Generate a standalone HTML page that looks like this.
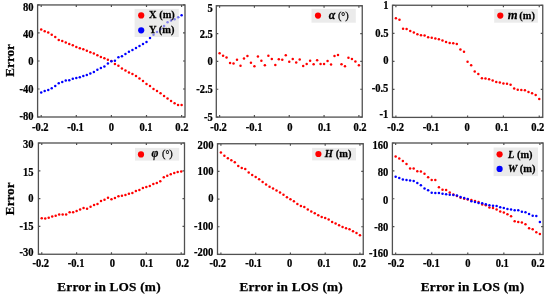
<!DOCTYPE html>
<html><head><meta charset="utf-8"><style>
html,body{margin:0;padding:0;background:#fff;width:550px;height:299px;overflow:hidden}
svg{display:block}
text{font-family:"Liberation Serif","Times New Roman",serif;font-weight:bold;fill:#000;stroke:#000;stroke-width:0.25px}
.tk{font-size:11.7px}
.lb{font-size:13.3px;letter-spacing:0.2px}
.lg{font-size:11px}
.yl{font-size:13.2px}
</style></head><body>
<svg width="550" height="299" viewBox="0 0 550 299">
<rect width="550" height="299" fill="#fff"/>
<g fill="#ff0000"><circle cx="41.2" cy="29.5" r="1.25"/><circle cx="44.71" cy="31.2" r="1.25"/><circle cx="48.22" cy="32.6" r="1.25"/><circle cx="51.73" cy="34.8" r="1.25"/><circle cx="55.24" cy="37" r="1.25"/><circle cx="58.75" cy="39.9" r="1.25"/><circle cx="62.26" cy="41" r="1.25"/><circle cx="65.77" cy="42.6" r="1.25"/><circle cx="69.28" cy="43.9" r="1.25"/><circle cx="72.79" cy="45.3" r="1.25"/><circle cx="76.3" cy="46.9" r="1.25"/><circle cx="79.81" cy="48.2" r="1.25"/><circle cx="83.32" cy="49.3" r="1.25"/><circle cx="86.83" cy="50.8" r="1.25"/><circle cx="90.34" cy="52.3" r="1.25"/><circle cx="93.85" cy="53.6" r="1.25"/><circle cx="97.36" cy="55.2" r="1.25"/><circle cx="100.87" cy="57" r="1.25"/><circle cx="104.38" cy="58.2" r="1.25"/><circle cx="107.89" cy="59.7" r="1.25"/><circle cx="111.4" cy="61" r="1.25"/><circle cx="114.91" cy="63.9" r="1.25"/><circle cx="118.42" cy="65.7" r="1.25"/><circle cx="121.93" cy="68.6" r="1.25"/><circle cx="125.44" cy="70.6" r="1.25"/><circle cx="128.95" cy="72.4" r="1.25"/><circle cx="132.46" cy="74" r="1.25"/><circle cx="135.97" cy="76.1" r="1.25"/><circle cx="139.48" cy="78.5" r="1.25"/><circle cx="142.99" cy="81.1" r="1.25"/><circle cx="146.5" cy="84" r="1.25"/><circle cx="150.01" cy="86.1" r="1.25"/><circle cx="153.52" cy="88.9" r="1.25"/><circle cx="157.03" cy="91" r="1.25"/><circle cx="160.54" cy="93.3" r="1.25"/><circle cx="164.05" cy="96" r="1.25"/><circle cx="167.56" cy="98.4" r="1.25"/><circle cx="171.07" cy="101" r="1.25"/><circle cx="174.58" cy="103.3" r="1.25"/><circle cx="178.09" cy="105.1" r="1.25"/><circle cx="181.6" cy="105.1" r="1.25"/></g>
<g fill="#0000ff"><circle cx="41.2" cy="92.6" r="1.25"/><circle cx="44.71" cy="91" r="1.25"/><circle cx="48.22" cy="89.9" r="1.25"/><circle cx="51.73" cy="88.3" r="1.25"/><circle cx="55.24" cy="85.9" r="1.25"/><circle cx="58.75" cy="83.2" r="1.25"/><circle cx="62.26" cy="82" r="1.25"/><circle cx="65.77" cy="80.5" r="1.25"/><circle cx="69.28" cy="80.3" r="1.25"/><circle cx="72.79" cy="78.7" r="1.25"/><circle cx="76.3" cy="78" r="1.25"/><circle cx="79.81" cy="77.2" r="1.25"/><circle cx="83.32" cy="76" r="1.25"/><circle cx="86.83" cy="74.9" r="1.25"/><circle cx="90.34" cy="73.6" r="1.25"/><circle cx="93.85" cy="72" r="1.25"/><circle cx="97.36" cy="69.7" r="1.25"/><circle cx="100.87" cy="68" r="1.25"/><circle cx="104.38" cy="66.6" r="1.25"/><circle cx="107.89" cy="63.5" r="1.25"/><circle cx="111.4" cy="61.3" r="1.25"/><circle cx="114.91" cy="60.7" r="1.25"/><circle cx="118.42" cy="57.2" r="1.25"/><circle cx="121.93" cy="56.3" r="1.25"/><circle cx="125.44" cy="54.1" r="1.25"/><circle cx="128.95" cy="51.8" r="1.25"/><circle cx="132.46" cy="50.1" r="1.25"/><circle cx="135.97" cy="48.1" r="1.25"/><circle cx="139.48" cy="46" r="1.25"/><circle cx="142.99" cy="44" r="1.25"/><circle cx="146.5" cy="42" r="1.25"/><circle cx="150.01" cy="38" r="1.25"/><circle cx="153.52" cy="34.7" r="1.25"/><circle cx="157.03" cy="32" r="1.25"/><circle cx="160.54" cy="29.1" r="1.25"/><circle cx="164.05" cy="26.1" r="1.25"/><circle cx="167.56" cy="22.3" r="1.25"/><circle cx="171.07" cy="20.4" r="1.25"/><circle cx="174.58" cy="19.2" r="1.25"/><circle cx="178.09" cy="17.2" r="1.25"/><circle cx="181.6" cy="15.2" r="1.25"/></g>
<rect x="134.6" y="8.9" width="44.2" height="28.1" fill="#dddddd" fill-opacity="0.6"/>
<circle cx="141.2" cy="15.4" r="3.1" fill="#ff0000"/>
<text transform="translate(149 18.2) scale(0.95 1)" class="lg"><tspan>X (m)</tspan></text>
<circle cx="141.2" cy="30.3" r="3.1" fill="#0000ff"/>
<text transform="translate(149 33.3) scale(0.95 1)" class="lg"><tspan>Y (m)</tspan></text>
<rect x="37.6" y="4.95" width="147.4" height="112.05" fill="none" stroke="#505050" stroke-width="1.3"/>
<path d="M41.2 117v-2.0M41.2 4.95v2.0M76.3 117v-2.0M76.3 4.95v2.0M111.4 117v-2.0M111.4 4.95v2.0M146.5 117v-2.0M146.5 4.95v2.0M181.6 117v-2.0M181.6 4.95v2.0M37.6 4.95h2.0M185 4.95h-2.0M37.6 32.96h2.0M185 32.96h-2.0M37.6 60.98h2.0M185 60.98h-2.0M37.6 88.99h2.0M185 88.99h-2.0M37.6 117h2.0M185 117h-2.0" stroke="#505050" stroke-width="1.2" fill="none"/>
<text transform="translate(40.25 130.9) scale(0.9 1)" class="tk" text-anchor="middle">-0.2</text>
<text transform="translate(75.5 130.9) scale(0.9 1)" class="tk" text-anchor="middle">-0.1</text>
<text transform="translate(111.45 130.9) scale(0.9 1)" class="tk" text-anchor="middle">0</text>
<text transform="translate(146 130.9) scale(0.9 1)" class="tk" text-anchor="middle">0.1</text>
<text transform="translate(181.9 130.9) scale(0.9 1)" class="tk" text-anchor="middle">0.2</text>
<text transform="translate(33.5 10.8) scale(0.9 1)" class="tk" text-anchor="end">80</text>
<text transform="translate(33.5 37.85) scale(0.9 1)" class="tk" text-anchor="end">40</text>
<text transform="translate(33.5 65) scale(0.9 1)" class="tk" text-anchor="end">0</text>
<text transform="translate(33.5 92.75) scale(0.9 1)" class="tk" text-anchor="end">-40</text>
<text transform="translate(33.5 120) scale(0.9 1)" class="tk" text-anchor="end">-80</text>
<g fill="#ff0000"><circle cx="219.6" cy="53.3" r="1.25"/><circle cx="223.08" cy="55.7" r="1.25"/><circle cx="226.56" cy="57.4" r="1.25"/><circle cx="230.05" cy="63.1" r="1.25"/><circle cx="233.53" cy="63.5" r="1.25"/><circle cx="237.01" cy="59.7" r="1.25"/><circle cx="240.5" cy="65.8" r="1.25"/><circle cx="243.98" cy="58.4" r="1.25"/><circle cx="247.46" cy="56.1" r="1.25"/><circle cx="250.94" cy="62.7" r="1.25"/><circle cx="254.42" cy="66.2" r="1.25"/><circle cx="257.91" cy="56.4" r="1.25"/><circle cx="261.39" cy="60.8" r="1.25"/><circle cx="264.87" cy="65.2" r="1.25"/><circle cx="268.36" cy="55.7" r="1.25"/><circle cx="271.84" cy="59" r="1.25"/><circle cx="275.32" cy="65.1" r="1.25"/><circle cx="278.8" cy="59.3" r="1.25"/><circle cx="282.28" cy="59.8" r="1.25"/><circle cx="285.77" cy="55.3" r="1.25"/><circle cx="289.25" cy="61.8" r="1.25"/><circle cx="292.73" cy="59.1" r="1.25"/><circle cx="296.21" cy="62.6" r="1.25"/><circle cx="299.7" cy="59.5" r="1.25"/><circle cx="303.18" cy="66" r="1.25"/><circle cx="306.66" cy="64" r="1.25"/><circle cx="310.14" cy="60.8" r="1.25"/><circle cx="313.63" cy="64.3" r="1.25"/><circle cx="317.11" cy="60.2" r="1.25"/><circle cx="320.59" cy="63.9" r="1.25"/><circle cx="324.07" cy="64" r="1.25"/><circle cx="327.56" cy="61.1" r="1.25"/><circle cx="331.04" cy="64.6" r="1.25"/><circle cx="334.52" cy="55.9" r="1.25"/><circle cx="338" cy="55" r="1.25"/><circle cx="341.49" cy="64.2" r="1.25"/><circle cx="344.97" cy="66.2" r="1.25"/><circle cx="348.45" cy="57.8" r="1.25"/><circle cx="351.93" cy="59.1" r="1.25"/><circle cx="355.42" cy="61.5" r="1.25"/><circle cx="358.9" cy="65.2" r="1.25"/></g>
<rect x="311.5" y="8.8" width="44.3" height="13.9" fill="#dddddd" fill-opacity="0.6"/>
<circle cx="318" cy="15.6" r="3.1" fill="#ff0000"/>
<text transform="translate(328.7 19.1) scale(0.95 1)" class="lg"><tspan font-style="italic" font-size="12.5">α</tspan><tspan font-weight="normal"> (</tspan><tspan font-weight="normal" font-size="10" dy="0.9">°</tspan><tspan font-weight="normal" dy="-0.9">)</tspan></text>
<rect x="216.3" y="5.75" width="145.95" height="111.35" fill="none" stroke="#505050" stroke-width="1.3"/>
<path d="M219.6 117.1v-2.0M219.6 5.75v2.0M254.42 117.1v-2.0M254.42 5.75v2.0M289.25 117.1v-2.0M289.25 5.75v2.0M324.07 117.1v-2.0M324.07 5.75v2.0M358.9 117.1v-2.0M358.9 5.75v2.0M216.3 5.75h2.0M362.25 5.75h-2.0M216.3 33.59h2.0M362.25 33.59h-2.0M216.3 61.42h2.0M362.25 61.42h-2.0M216.3 89.26h2.0M362.25 89.26h-2.0M216.3 117.1h2.0M362.25 117.1h-2.0" stroke="#505050" stroke-width="1.2" fill="none"/>
<text transform="translate(218.5 130.9) scale(0.9 1)" class="tk" text-anchor="middle">-0.2</text>
<text transform="translate(254.1 130.9) scale(0.9 1)" class="tk" text-anchor="middle">-0.1</text>
<text transform="translate(289.9 130.9) scale(0.9 1)" class="tk" text-anchor="middle">0</text>
<text transform="translate(324.5 130.9) scale(0.9 1)" class="tk" text-anchor="middle">0.1</text>
<text transform="translate(360 130.9) scale(0.9 1)" class="tk" text-anchor="middle">0.2</text>
<text transform="translate(212.8 11.55) scale(0.9 1)" class="tk" text-anchor="end">5</text>
<text transform="translate(212.8 38.05) scale(0.9 1)" class="tk" text-anchor="end">2.5</text>
<text transform="translate(212.8 64.85) scale(0.9 1)" class="tk" text-anchor="end">0</text>
<text transform="translate(212.8 93.35) scale(0.9 1)" class="tk" text-anchor="end">-2.5</text>
<text transform="translate(212.8 120.85) scale(0.9 1)" class="tk" text-anchor="end">-5</text>
<g fill="#ff0000"><circle cx="395.9" cy="18.2" r="1.25"/><circle cx="399.48" cy="19.7" r="1.25"/><circle cx="403.07" cy="28.8" r="1.25"/><circle cx="406.65" cy="29" r="1.25"/><circle cx="410.23" cy="31.1" r="1.25"/><circle cx="413.82" cy="32.5" r="1.25"/><circle cx="417.4" cy="34.3" r="1.25"/><circle cx="420.99" cy="35.3" r="1.25"/><circle cx="424.57" cy="35.5" r="1.25"/><circle cx="428.15" cy="37.3" r="1.25"/><circle cx="431.74" cy="37.7" r="1.25"/><circle cx="435.32" cy="38.6" r="1.25"/><circle cx="438.9" cy="39.2" r="1.25"/><circle cx="442.49" cy="40.6" r="1.25"/><circle cx="446.07" cy="42.1" r="1.25"/><circle cx="449.66" cy="42.9" r="1.25"/><circle cx="453.24" cy="43.3" r="1.25"/><circle cx="456.82" cy="44.1" r="1.25"/><circle cx="460.41" cy="49.5" r="1.25"/><circle cx="463.99" cy="51.7" r="1.25"/><circle cx="467.57" cy="61.7" r="1.25"/><circle cx="471.16" cy="65.3" r="1.25"/><circle cx="474.74" cy="71.6" r="1.25"/><circle cx="478.33" cy="73.9" r="1.25"/><circle cx="481.91" cy="78.2" r="1.25"/><circle cx="485.49" cy="78.5" r="1.25"/><circle cx="489.08" cy="79.2" r="1.25"/><circle cx="492.66" cy="80.4" r="1.25"/><circle cx="496.25" cy="81.9" r="1.25"/><circle cx="499.83" cy="82.5" r="1.25"/><circle cx="503.41" cy="83.5" r="1.25"/><circle cx="507" cy="83.8" r="1.25"/><circle cx="510.58" cy="84.8" r="1.25"/><circle cx="514.16" cy="88.6" r="1.25"/><circle cx="517.75" cy="89.8" r="1.25"/><circle cx="521.33" cy="90.1" r="1.25"/><circle cx="524.91" cy="90.2" r="1.25"/><circle cx="528.5" cy="92" r="1.25"/><circle cx="532.08" cy="93.2" r="1.25"/><circle cx="535.67" cy="95" r="1.25"/><circle cx="539.25" cy="99.1" r="1.25"/></g>
<rect x="494.2" y="9.1" width="43.7" height="13.6" fill="#dddddd" fill-opacity="0.6"/>
<circle cx="500.3" cy="15.6" r="3.1" fill="#ff0000"/>
<text transform="translate(507.8 19) scale(0.95 1)" class="lg"><tspan font-style="italic" font-size="13.3">m</tspan><tspan dx="-0.9"> (m)</tspan></text>
<rect x="392.5" y="5.25" width="150.25" height="112.15" fill="none" stroke="#505050" stroke-width="1.3"/>
<path d="M395.9 117.4v-2.0M395.9 5.25v2.0M431.74 117.4v-2.0M431.74 5.25v2.0M467.57 117.4v-2.0M467.57 5.25v2.0M503.41 117.4v-2.0M503.41 5.25v2.0M539.25 117.4v-2.0M539.25 5.25v2.0M392.5 5.25h2.0M542.75 5.25h-2.0M392.5 33.29h2.0M542.75 33.29h-2.0M392.5 61.33h2.0M542.75 61.33h-2.0M392.5 89.36h2.0M542.75 89.36h-2.0M392.5 117.4h2.0M542.75 117.4h-2.0" stroke="#505050" stroke-width="1.2" fill="none"/>
<text transform="translate(395.7 130.9) scale(0.9 1)" class="tk" text-anchor="middle">-0.2</text>
<text transform="translate(431 130.9) scale(0.9 1)" class="tk" text-anchor="middle">-0.1</text>
<text transform="translate(467.1 130.9) scale(0.9 1)" class="tk" text-anchor="middle">0</text>
<text transform="translate(501.9 130.9) scale(0.9 1)" class="tk" text-anchor="middle">0.1</text>
<text transform="translate(537.8 130.9) scale(0.9 1)" class="tk" text-anchor="middle">0.2</text>
<text transform="translate(388.4 9.35) scale(0.9 1)" class="tk" text-anchor="end">1</text>
<text transform="translate(388.4 37.05) scale(0.9 1)" class="tk" text-anchor="end">0.5</text>
<text transform="translate(388.4 64.15) scale(0.9 1)" class="tk" text-anchor="end">0</text>
<text transform="translate(388.4 91.95) scale(0.9 1)" class="tk" text-anchor="end">-0.5</text>
<text transform="translate(388.4 117.75) scale(0.9 1)" class="tk" text-anchor="end">-1</text>
<g fill="#ff0000"><circle cx="41.75" cy="218.3" r="1.25"/><circle cx="45.24" cy="218.5" r="1.25"/><circle cx="48.72" cy="217.7" r="1.25"/><circle cx="52.21" cy="216.5" r="1.25"/><circle cx="55.7" cy="215.8" r="1.25"/><circle cx="59.18" cy="214.5" r="1.25"/><circle cx="62.67" cy="214.6" r="1.25"/><circle cx="66.15" cy="214.6" r="1.25"/><circle cx="69.64" cy="212.3" r="1.25"/><circle cx="73.13" cy="212.3" r="1.25"/><circle cx="76.61" cy="211" r="1.25"/><circle cx="80.1" cy="209.6" r="1.25"/><circle cx="83.58" cy="208" r="1.25"/><circle cx="87.07" cy="208.7" r="1.25"/><circle cx="90.56" cy="206.8" r="1.25"/><circle cx="94.04" cy="205.1" r="1.25"/><circle cx="97.53" cy="203.9" r="1.25"/><circle cx="101.02" cy="201" r="1.25"/><circle cx="104.5" cy="199.8" r="1.25"/><circle cx="107.99" cy="197.8" r="1.25"/><circle cx="111.47" cy="199.2" r="1.25"/><circle cx="114.96" cy="198" r="1.25"/><circle cx="118.45" cy="196.3" r="1.25"/><circle cx="121.93" cy="195.7" r="1.25"/><circle cx="125.42" cy="195.1" r="1.25"/><circle cx="128.91" cy="193.7" r="1.25"/><circle cx="132.39" cy="193" r="1.25"/><circle cx="135.88" cy="191" r="1.25"/><circle cx="139.37" cy="190.1" r="1.25"/><circle cx="142.85" cy="188.1" r="1.25"/><circle cx="146.34" cy="186.9" r="1.25"/><circle cx="149.82" cy="186" r="1.25"/><circle cx="153.31" cy="184" r="1.25"/><circle cx="156.8" cy="183" r="1.25"/><circle cx="160.28" cy="181.3" r="1.25"/><circle cx="163.77" cy="177.2" r="1.25"/><circle cx="167.25" cy="175.7" r="1.25"/><circle cx="170.74" cy="174.3" r="1.25"/><circle cx="174.23" cy="173.1" r="1.25"/><circle cx="177.71" cy="172.1" r="1.25"/><circle cx="181.2" cy="171.6" r="1.25"/></g>
<rect x="135" y="147.9" width="44.2" height="12.7" fill="#dddddd" fill-opacity="0.6"/>
<circle cx="141" cy="154.4" r="3.1" fill="#ff0000"/>
<text transform="translate(151.6 157.2) scale(0.95 1)" class="lg"><tspan font-style="italic" font-size="12.5">φ</tspan><tspan font-weight="normal" dx="0.9"> (</tspan><tspan font-weight="normal" font-size="10" dy="0.9">°</tspan><tspan font-weight="normal" dy="-0.9">)</tspan></text>
<rect x="38.4" y="143" width="146.1" height="111.25" fill="none" stroke="#505050" stroke-width="1.3"/>
<path d="M41.75 254.25v-2.0M41.75 143v2.0M76.61 254.25v-2.0M76.61 143v2.0M111.47 254.25v-2.0M111.47 143v2.0M146.34 254.25v-2.0M146.34 143v2.0M181.2 254.25v-2.0M181.2 143v2.0M38.4 143h2.0M184.5 143h-2.0M38.4 170.81h2.0M184.5 170.81h-2.0M38.4 198.62h2.0M184.5 198.62h-2.0M38.4 226.44h2.0M184.5 226.44h-2.0M38.4 254.25h2.0M184.5 254.25h-2.0" stroke="#505050" stroke-width="1.2" fill="none"/>
<text transform="translate(40.75 267.3) scale(0.9 1)" class="tk" text-anchor="middle">-0.2</text>
<text transform="translate(76.1 267.3) scale(0.9 1)" class="tk" text-anchor="middle">-0.1</text>
<text transform="translate(112.4 267.3) scale(0.9 1)" class="tk" text-anchor="middle">0</text>
<text transform="translate(146.6 267.3) scale(0.9 1)" class="tk" text-anchor="middle">0.1</text>
<text transform="translate(182.5 267.3) scale(0.9 1)" class="tk" text-anchor="middle">0.2</text>
<text transform="translate(33.5 148.35) scale(0.9 1)" class="tk" text-anchor="end">30</text>
<text transform="translate(33.5 175.65) scale(0.9 1)" class="tk" text-anchor="end">15</text>
<text transform="translate(33.5 202.25) scale(0.9 1)" class="tk" text-anchor="end">0</text>
<text transform="translate(33.5 230.35) scale(0.9 1)" class="tk" text-anchor="end">-15</text>
<text transform="translate(33.5 256.05) scale(0.9 1)" class="tk" text-anchor="end">-30</text>
<text x="109" y="290.8" class="lb" text-anchor="middle">Error in LOS (m)</text>
<g fill="#ff0000"><circle cx="220.9" cy="152.4" r="1.25"/><circle cx="224.38" cy="155.7" r="1.25"/><circle cx="227.85" cy="158.2" r="1.25"/><circle cx="231.33" cy="160.2" r="1.25"/><circle cx="234.81" cy="162.3" r="1.25"/><circle cx="238.28" cy="166.1" r="1.25"/><circle cx="241.76" cy="168.1" r="1.25"/><circle cx="245.23" cy="169.1" r="1.25"/><circle cx="248.71" cy="172.5" r="1.25"/><circle cx="252.19" cy="175" r="1.25"/><circle cx="255.66" cy="177.1" r="1.25"/><circle cx="259.14" cy="179.3" r="1.25"/><circle cx="262.62" cy="182" r="1.25"/><circle cx="266.09" cy="184.6" r="1.25"/><circle cx="269.57" cy="186.8" r="1.25"/><circle cx="273.04" cy="188.6" r="1.25"/><circle cx="276.52" cy="190.4" r="1.25"/><circle cx="280" cy="192.4" r="1.25"/><circle cx="283.47" cy="194.8" r="1.25"/><circle cx="286.95" cy="197.2" r="1.25"/><circle cx="290.43" cy="199.3" r="1.25"/><circle cx="293.9" cy="201.3" r="1.25"/><circle cx="297.38" cy="204" r="1.25"/><circle cx="300.85" cy="206" r="1.25"/><circle cx="304.33" cy="207.1" r="1.25"/><circle cx="307.81" cy="209.5" r="1.25"/><circle cx="311.28" cy="211.6" r="1.25"/><circle cx="314.76" cy="213.3" r="1.25"/><circle cx="318.24" cy="215.2" r="1.25"/><circle cx="321.71" cy="217.1" r="1.25"/><circle cx="325.19" cy="218.1" r="1.25"/><circle cx="328.66" cy="219.6" r="1.25"/><circle cx="332.14" cy="221.9" r="1.25"/><circle cx="335.62" cy="223.6" r="1.25"/><circle cx="339.09" cy="225.3" r="1.25"/><circle cx="342.57" cy="227" r="1.25"/><circle cx="346.04" cy="228.3" r="1.25"/><circle cx="349.52" cy="229.2" r="1.25"/><circle cx="353" cy="231.2" r="1.25"/><circle cx="356.47" cy="233.1" r="1.25"/><circle cx="359.95" cy="235.2" r="1.25"/></g>
<rect x="312.1" y="147.9" width="43.9" height="12.5" fill="#dddddd" fill-opacity="0.6"/>
<circle cx="318.4" cy="154" r="3.1" fill="#ff0000"/>
<text transform="translate(324.8 157.4) scale(0.95 1)" class="lg"><tspan font-style="italic">H</tspan><tspan dx="0.3"> (m)</tspan></text>
<rect x="217.5" y="143.75" width="145.75" height="110.65" fill="none" stroke="#505050" stroke-width="1.3"/>
<path d="M220.9 254.4v-2.0M220.9 143.75v2.0M255.66 254.4v-2.0M255.66 143.75v2.0M290.43 254.4v-2.0M290.43 143.75v2.0M325.19 254.4v-2.0M325.19 143.75v2.0M359.95 254.4v-2.0M359.95 143.75v2.0M217.5 143.75h2.0M363.25 143.75h-2.0M217.5 171.41h2.0M363.25 171.41h-2.0M217.5 199.07h2.0M363.25 199.07h-2.0M217.5 226.74h2.0M363.25 226.74h-2.0M217.5 254.4h2.0M363.25 254.4h-2.0" stroke="#505050" stroke-width="1.2" fill="none"/>
<text transform="translate(217.8 267.3) scale(0.9 1)" class="tk" text-anchor="middle">-0.2</text>
<text transform="translate(253.5 267.3) scale(0.9 1)" class="tk" text-anchor="middle">-0.1</text>
<text transform="translate(289.6 267.3) scale(0.9 1)" class="tk" text-anchor="middle">0</text>
<text transform="translate(324 267.3) scale(0.9 1)" class="tk" text-anchor="middle">0.1</text>
<text transform="translate(359.4 267.3) scale(0.9 1)" class="tk" text-anchor="middle">0.2</text>
<text transform="translate(213.4 148.6) scale(0.9 1)" class="tk" text-anchor="end">200</text>
<text transform="translate(213.4 175.4) scale(0.9 1)" class="tk" text-anchor="end">100</text>
<text transform="translate(213.4 202.45) scale(0.9 1)" class="tk" text-anchor="end">0</text>
<text transform="translate(213.4 230.45) scale(0.9 1)" class="tk" text-anchor="end">-100</text>
<text transform="translate(213.4 255.85) scale(0.9 1)" class="tk" text-anchor="end">-200</text>
<text x="291.2" y="290.8" class="lb" text-anchor="middle">Error in LOS (m)</text>
<g fill="#ff0000"><circle cx="395.65" cy="156.6" r="1.25"/><circle cx="399.26" cy="158.6" r="1.25"/><circle cx="402.86" cy="160.9" r="1.25"/><circle cx="406.47" cy="164.1" r="1.25"/><circle cx="410.07" cy="168.4" r="1.25"/><circle cx="413.68" cy="168.4" r="1.25"/><circle cx="417.29" cy="171.2" r="1.25"/><circle cx="420.89" cy="171.4" r="1.25"/><circle cx="424.5" cy="173.8" r="1.25"/><circle cx="428.11" cy="177.3" r="1.25"/><circle cx="431.71" cy="179.9" r="1.25"/><circle cx="435.32" cy="180" r="1.25"/><circle cx="438.92" cy="187.3" r="1.25"/><circle cx="442.53" cy="189.8" r="1.25"/><circle cx="446.14" cy="190.1" r="1.25"/><circle cx="449.74" cy="192.5" r="1.25"/><circle cx="453.35" cy="194.6" r="1.25"/><circle cx="456.96" cy="196.1" r="1.25"/><circle cx="460.56" cy="197.8" r="1.25"/><circle cx="464.17" cy="198.7" r="1.25"/><circle cx="467.77" cy="199.5" r="1.25"/><circle cx="471.38" cy="200" r="1.25"/><circle cx="474.99" cy="200.9" r="1.25"/><circle cx="478.59" cy="202.1" r="1.25"/><circle cx="482.2" cy="204.5" r="1.25"/><circle cx="485.81" cy="205.3" r="1.25"/><circle cx="489.41" cy="207.5" r="1.25"/><circle cx="493.02" cy="208.1" r="1.25"/><circle cx="496.62" cy="209.4" r="1.25"/><circle cx="500.23" cy="211.5" r="1.25"/><circle cx="503.84" cy="212.6" r="1.25"/><circle cx="507.44" cy="214.3" r="1.25"/><circle cx="511.05" cy="216.2" r="1.25"/><circle cx="514.66" cy="221.3" r="1.25"/><circle cx="518.26" cy="222" r="1.25"/><circle cx="521.87" cy="222.5" r="1.25"/><circle cx="525.48" cy="224.2" r="1.25"/><circle cx="529.08" cy="228.2" r="1.25"/><circle cx="532.69" cy="229.2" r="1.25"/><circle cx="536.29" cy="232.2" r="1.25"/><circle cx="539.9" cy="234.1" r="1.25"/></g>
<g fill="#0000ff"><circle cx="395.65" cy="176.8" r="1.25"/><circle cx="399.26" cy="178.1" r="1.25"/><circle cx="402.86" cy="179.6" r="1.25"/><circle cx="406.47" cy="179.9" r="1.25"/><circle cx="410.07" cy="180.5" r="1.25"/><circle cx="413.68" cy="180.9" r="1.25"/><circle cx="417.29" cy="182.9" r="1.25"/><circle cx="420.89" cy="185.3" r="1.25"/><circle cx="424.5" cy="188.4" r="1.25"/><circle cx="428.11" cy="190.3" r="1.25"/><circle cx="431.71" cy="192.8" r="1.25"/><circle cx="435.32" cy="192.9" r="1.25"/><circle cx="438.92" cy="193.1" r="1.25"/><circle cx="442.53" cy="193.8" r="1.25"/><circle cx="446.14" cy="194.3" r="1.25"/><circle cx="449.74" cy="194.8" r="1.25"/><circle cx="453.35" cy="195" r="1.25"/><circle cx="456.96" cy="195.4" r="1.25"/><circle cx="460.56" cy="197" r="1.25"/><circle cx="464.17" cy="198" r="1.25"/><circle cx="467.77" cy="199" r="1.25"/><circle cx="471.38" cy="201.2" r="1.25"/><circle cx="474.99" cy="202.1" r="1.25"/><circle cx="478.59" cy="203.1" r="1.25"/><circle cx="482.2" cy="203.3" r="1.25"/><circle cx="485.81" cy="204.3" r="1.25"/><circle cx="489.41" cy="205.3" r="1.25"/><circle cx="493.02" cy="205.8" r="1.25"/><circle cx="496.62" cy="206" r="1.25"/><circle cx="500.23" cy="207.2" r="1.25"/><circle cx="503.84" cy="207.9" r="1.25"/><circle cx="507.44" cy="208.9" r="1.25"/><circle cx="511.05" cy="209.4" r="1.25"/><circle cx="514.66" cy="210.2" r="1.25"/><circle cx="518.26" cy="210.3" r="1.25"/><circle cx="521.87" cy="211.7" r="1.25"/><circle cx="525.48" cy="212.2" r="1.25"/><circle cx="529.08" cy="214.1" r="1.25"/><circle cx="532.69" cy="215.8" r="1.25"/><circle cx="536.29" cy="215.9" r="1.25"/><circle cx="539.9" cy="222.1" r="1.25"/></g>
<rect x="493.6" y="147.5" width="44.4" height="28.6" fill="#dddddd" fill-opacity="0.6"/>
<circle cx="499.6" cy="154.3" r="3.1" fill="#ff0000"/>
<text transform="translate(507.9 157.6) scale(0.95 1)" class="lg"><tspan font-style="italic">L</tspan><tspan> (m)</tspan></text>
<circle cx="499.6" cy="168.9" r="3.1" fill="#0000ff"/>
<text transform="translate(507.9 172.2) scale(0.95 1)" class="lg"><tspan font-style="italic">W</tspan><tspan> (m)</tspan></text>
<rect x="392.4" y="143" width="150.7" height="111.5" fill="none" stroke="#505050" stroke-width="1.3"/>
<path d="M395.65 254.5v-2.0M395.65 143v2.0M431.71 254.5v-2.0M431.71 143v2.0M467.77 254.5v-2.0M467.77 143v2.0M503.84 254.5v-2.0M503.84 143v2.0M539.9 254.5v-2.0M539.9 143v2.0M392.4 143h2.0M543.1 143h-2.0M392.4 170.88h2.0M543.1 170.88h-2.0M392.4 198.75h2.0M543.1 198.75h-2.0M392.4 226.62h2.0M543.1 226.62h-2.0M392.4 254.5h2.0M543.1 254.5h-2.0" stroke="#505050" stroke-width="1.2" fill="none"/>
<text transform="translate(396 267.3) scale(0.9 1)" class="tk" text-anchor="middle">-0.2</text>
<text transform="translate(431.4 267.3) scale(0.9 1)" class="tk" text-anchor="middle">-0.1</text>
<text transform="translate(467.8 267.3) scale(0.9 1)" class="tk" text-anchor="middle">0</text>
<text transform="translate(502.3 267.3) scale(0.9 1)" class="tk" text-anchor="middle">0.1</text>
<text transform="translate(537.9 267.3) scale(0.9 1)" class="tk" text-anchor="middle">0.2</text>
<text transform="translate(388.3 149) scale(0.9 1)" class="tk" text-anchor="end">160</text>
<text transform="translate(388.3 176.15) scale(0.9 1)" class="tk" text-anchor="end">80</text>
<text transform="translate(388.3 203.65) scale(0.9 1)" class="tk" text-anchor="end">0</text>
<text transform="translate(388.3 230.65) scale(0.9 1)" class="tk" text-anchor="end">-80</text>
<text transform="translate(388.3 257.05) scale(0.9 1)" class="tk" text-anchor="end">-160</text>
<text x="472.5" y="290.8" class="lb" text-anchor="middle">Error in LOS (m)</text>
<text transform="translate(14.25 60.4) rotate(-90)" class="yl" text-anchor="middle">Error</text>
<text transform="translate(14.25 198.8) rotate(-90)" class="yl" text-anchor="middle">Error</text>
</svg>
</body></html>
